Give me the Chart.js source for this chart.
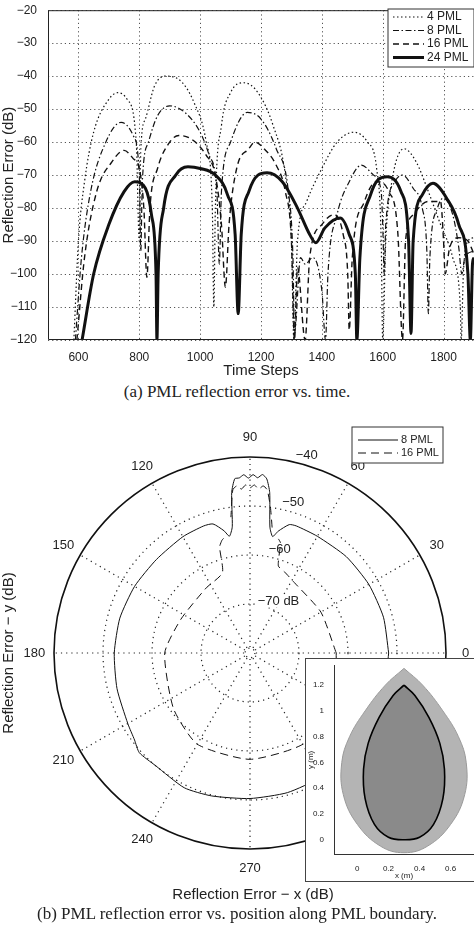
<!DOCTYPE html>
<html>
<head>
<meta charset="utf-8">
<script src="https://cdn.jsdelivr.net/npm/chart.js@4"></script>
<style>
  body { margin: 0; background: #fff; width: 474px; height: 934px; position: relative; overflow: hidden; }
  .box { position: absolute; }
  .cap { position: absolute; left: 0; width: 474px; text-align: center; font-family: "Liberation Serif", serif; font-size: 17px; color: #222; }
</style>
</head>
<body>
<div class="box" style="left:0;top:0;width:474px;height:380px"><canvas id="timeChart"></canvas></div>
<div class="cap" style="top:382px">(a) PML reflection error vs. time.</div>
<div class="box" style="left:0;top:425px;width:474px;height:485px"><canvas id="polarChart"></canvas></div>
<div class="box" style="left:305px;top:658px;width:168px;height:222px;background:#fff;border:1px solid #444"><canvas id="meshChart"></canvas></div>
<div class="cap" style="top:904px">(b) PML reflection error vs. position along PML boundary.</div>
<script>
// --- (a) reflection error vs time ---
const t4 = [585, 600, 620, 650, 700, 730, 760, 790, 800, 805, 820, 850, 885, 930, 980, 1020, 1040, 1045, 1050, 1070, 1100, 1145, 1190, 1240, 1280, 1300, 1308, 1320, 1350, 1400, 1450, 1505, 1550, 1580, 1595, 1600, 1610, 1630, 1670, 1710, 1750, 1790, 1830, 1855, 1858, 1865, 1880, 1900];
const e4 = [-120, -90, -72, -57, -47, -45, -47, -60, -90, -62, -53, -43, -40, -41, -48, -60, -80, -110, -80, -55, -45, -42, -45, -55, -70, -90, -120, -90, -78, -68, -60, -57, -60, -68, -90, -120, -90, -72, -62, -66, -75, -85, -95, -110, -120, -100, -90, -89];
const t8 = [590, 610, 640, 690, 740, 780, 800, 805, 810, 830, 860, 900, 950, 1000, 1030, 1055, 1063, 1070, 1100, 1155, 1200, 1250, 1290, 1305, 1310, 1330, 1345, 1370, 1400, 1412, 1420, 1450, 1490, 1530, 1570, 1595, 1600, 1605, 1610, 1640, 1665, 1700, 1730, 1745, 1750, 1755, 1780, 1800, 1830, 1850, 1860, 1870, 1900];
const e8 = [-120, -95, -75, -60, -54, -58, -70, -93, -72, -60, -52, -49, -51, -57, -64, -75, -97, -75, -60, -51, -53, -62, -75, -95, -118, -95, -97, -95, -105, -120, -100, -82, -72, -67, -70, -75, -85, -100, -85, -72, -70, -74, -80, -93, -112, -95, -80, -77, -82, -92, -100, -95, -93];
const t16 = [595, 620, 660, 710, 750, 780, 800, 815, 825, 835, 860, 900, 930, 970, 1020, 1050, 1070, 1083, 1095, 1120, 1160, 1180, 1210, 1250, 1280, 1300, 1310, 1320, 1345, 1360, 1400, 1440, 1470, 1485, 1490, 1500, 1540, 1580, 1620, 1650, 1665, 1675, 1700, 1750, 1790, 1800, 1805, 1820, 1850, 1880, 1900];
const e16 = [-120, -95, -75, -66, -62.5, -65, -68, -80, -101, -80, -68, -60, -58, -59, -64, -70, -85, -104, -85, -68, -62, -60, -62, -67, -75, -90, -120, -98, -120, -95, -85, -82, -88, -100, -117, -95, -78, -72, -75, -88, -120, -90, -82, -78, -78, -90, -100, -92, -89, -90, -94];
const t24 = [612, 650, 700, 750, 785, 820, 840, 855, 858, 862, 880, 920, 960, 1000, 1050, 1090, 1115, 1125, 1135, 1160, 1220, 1270, 1320, 1360, 1380, 1410, 1460, 1490, 1510, 1515, 1525, 1560, 1615, 1660, 1685, 1693, 1700, 1730, 1765, 1810, 1850, 1880, 1888, 1895, 1900];
const e24 = [-120, -100, -85, -75, -72, -74, -82, -100, -120, -100, -80, -70, -67.5, -68, -70, -76, -88, -112, -88, -75, -69.3, -72, -80, -88, -90.5, -86, -83, -88, -100, -120, -95, -76, -70.5, -75, -90, -118, -90, -76, -72.5, -77, -85, -100, -120, -97, -95];
const timeTicks = [600, 800, 1000, 1200, 1400, 1600, 1800];
const timeLabels = ['4 PML', '8 PML', '16 PML', '24 PML'];

// --- (b) reflection error vs angle along boundary ---
const ang8 = [0, 15, 30, 45, 60, 70, 73, 77, 79, 81, 83, 84.5, 86, 87.5, 89, 90.5, 92, 93.5, 95, 96.5, 98, 100, 102, 106, 110, 120, 135, 150, 165, 180, 195, 210, 217, 222, 230, 244, 255, 270, 285, 300, 315, 330, 345, 360];
const db8 = [-51.7, -51.8, -52, -52.2, -52.5, -52.4, -52.6, -54.5, -55.8, -54, -47, -44.3, -43.5, -44.2, -43.6, -44.3, -43.6, -44.2, -44.3, -47, -54, -55.8, -54.5, -52.6, -52.4, -52.6, -53, -52.8, -52.5, -52.3, -51.9, -51.2, -50.5, -49.6, -50, -49.4, -49.8, -50.3, -50.5, -50.8, -51.2, -51.5, -51.6, -51.7];
const ang16 = [0, 30, 58, 67, 72, 74.5, 76, 78, 80, 82, 84, 85.5, 87, 88.5, 90, 91.5, 93, 94.5, 96, 98, 100, 103, 104, 106, 109, 124, 154, 180, 216, 240, 270, 301, 332.5, 360];
const db16 = [-62.4, -63.3, -63, -62, -61.3, -56.7, -56, null, -54, -50, -46.5, -45.8, -46.5, -45.7, -46.3, -45.7, -46.5, -45.8, -46.5, -52, null, -56, -56.3, -57.5, -62.7, -64, -64.3, -62.6, -60.7, -58.5, -58.3, -58.5, -60.5, -62.4];
const ringDb = [-70, -60, -50, -40];
const spokeAngles = [0, 30, 60, 90, 120, 150, 180, 210, 240, 270, 300, 330];
const polarLabels = ['8 PML', '16 PML'];

// --- inset mesh outline ---
const outerX = [0.3, 0.42, 0.55, 0.65, 0.7, 0.69, 0.6, 0.45, 0.3, 0.15, 0, -0.09, -0.1, -0.05, 0.05, 0.18, 0.3];
const outerY = [1.33, 1.2, 1.0, 0.8, 0.6, 0.35, 0.12, -0.05, -0.1, -0.05, 0.12, 0.35, 0.6, 0.8, 1.0, 1.2, 1.33];
const innerX = [0.3, 0.37, 0.46, 0.53, 0.56, 0.55, 0.49, 0.4, 0.3, 0.2, 0.11, 0.05, 0.04, 0.07, 0.14, 0.23, 0.3];
const innerY = [1.2, 1.12, 0.95, 0.75, 0.55, 0.32, 0.12, 0.02, 0, 0.02, 0.12, 0.32, 0.55, 0.75, 0.95, 1.12, 1.2];

const SANS = '"Liberation Sans", Arial, sans-serif';
Chart.defaults.font.family = SANS;
Chart.defaults.color = '#222';
Chart.defaults.animation = false;

function pairs(xs, ys) {
    return xs.map((x, i) => ({ x: x, y: ys[i] }));
}
const minus = v => (v < 0 ? '\u2212' + Math.abs(v) : String(v));

const dashes = [[1.5, 2.5], [6, 2.5, 1.5, 2.5], [6, 4], []];
const widths = [1.2, 1.2, 1.4, 3];

function legendPlugin(id, box, labels, styles) {
    return {
        id: id,
        afterDraw(chart) {
            const ctx = chart.ctx;
            ctx.save();
            ctx.fillStyle = '#fff';
            ctx.fillRect(box.x, box.y, box.w, box.h);
            ctx.strokeStyle = '#333';
            ctx.lineWidth = 1;
            ctx.strokeRect(box.x, box.y, box.w, box.h);
            ctx.font = box.font + 'px ' + SANS;
            ctx.textBaseline = 'middle';
            labels.forEach((lab, i) => {
                const y = box.y + box.first + i * box.step;
                ctx.setLineDash(styles[i].dash);
                ctx.lineWidth = styles[i].width;
                ctx.strokeStyle = '#111';
                ctx.beginPath();
                ctx.moveTo(box.x + box.l0, y);
                ctx.lineTo(box.x + box.l1, y);
                ctx.stroke();
                ctx.setLineDash([]);
                ctx.fillStyle = '#222';
                ctx.fillText(lab, box.x + box.l1 + 3, y);
            });
            ctx.restore();
        }
    };
}

new Chart(document.getElementById('timeChart'), {
    type: 'scatter',
    data: {
        datasets: [[t4, e4], [t8, e8], [t16, e16], [t24, e24]].map((s, i) => ({
            label: timeLabels[i],
            data: pairs(s[0], s[1]),
            showLine: true,
            borderColor: '#111',
            borderWidth: widths[i],
            borderDash: dashes[i],
            pointRadius: 0,
            cubicInterpolationMode: 'monotone'
        }))
    },
    options: {
        responsive: true,
        maintainAspectRatio: false,
        layout: { padding: { top: 4, right: 0, left: 0, bottom: 0 } },
        plugins: { legend: { display: false }, tooltip: { enabled: false } },
        scales: {
            x: {
                type: 'linear', min: 500, max: 1900,
                afterBuildTicks: s => { s.ticks = timeTicks.map(v => ({ value: v })); },
                afterFit: s => { s.height = 40; },
                grid: { display: false },
                border: { display: false },
                ticks: { padding: 2, font: { size: 12 }, maxRotation: 0, callback: v => String(v) },
                title: { display: true, text: 'Time Steps', font: { size: 15 }, padding: { top: 3, bottom: 0 } }
            },
            y: {
                min: -120, max: -20,
                ticks: { stepSize: 10, font: { size: 12 }, padding: 3, callback: minus },
                afterFit: s => { s.width = 48; },
                grid: { display: false },
                border: { display: false },
                title: { display: true, text: 'Reflection Error (dB)', font: { size: 15 }, padding: 0 }
            }
        }
    },
    plugins: [
        {
            id: 'dottedGrid',
            beforeDatasetsDraw(chart) {
                const a = chart.chartArea, ctx = chart.ctx, sx = chart.scales.x, sy = chart.scales.y;
                ctx.save();
                ctx.strokeStyle = '#555';
                ctx.lineWidth = 1;
                ctx.setLineDash([1.2, 3]);
                sx.ticks.forEach(t => {
                    const x = Math.round(sx.getPixelForValue(t.value)) + 0.5;
                    ctx.beginPath(); ctx.moveTo(x, a.top); ctx.lineTo(x, a.bottom); ctx.stroke();
                });
                sy.ticks.forEach(t => {
                    const y = Math.round(sy.getPixelForValue(t.value)) + 0.5;
                    ctx.beginPath(); ctx.moveTo(a.left, y); ctx.lineTo(a.right, y); ctx.stroke();
                });
                ctx.restore();
            },
            afterDraw(chart) {
                const a = chart.chartArea, ctx = chart.ctx;
                ctx.save();
                ctx.strokeStyle = '#222';
                ctx.lineWidth = 1;
                ctx.beginPath();
                ctx.moveTo(a.right, a.top + 0.5);
                ctx.lineTo(a.left + 0.5, a.top + 0.5);
                ctx.lineTo(a.left + 0.5, a.bottom - 0.5);
                ctx.lineTo(a.right, a.bottom - 0.5);
                ctx.stroke();
                ctx.restore();
            }
        },
        legendPlugin('timeLegend', { x: 388, y: 9, w: 86, h: 58, first: 8, step: 13.5, l0: 5, l1: 36, font: 12 },
            timeLabels, dashes.map((d, i) => ({ dash: d, width: widths[i] })))
    ]
});

// polar chart drawn on a scatter plane, radius unit = 40 dB (from -80 dB at centre)
const R_PX = 196;
const CX = 250, CY = 228;
function toXY(angs, dbs) {
    return angs.map((a, i) => {
        if (dbs[i] === null) return { x: null, y: null };
        const r = (dbs[i] + 80) / 40;
        const t = a * Math.PI / 180;
        return { x: r * Math.cos(t), y: r * Math.sin(t) };
    });
}

new Chart(document.getElementById('polarChart'), {
    type: 'scatter',
    data: {
        datasets: [
            { label: polarLabels[0], data: toXY(ang8, db8), showLine: true, borderColor: '#111', borderWidth: 1, pointRadius: 0, tension: 0.2 },
            { label: polarLabels[1], data: toXY(ang16, db16), showLine: true, spanGaps: false, borderColor: '#111', borderWidth: 1, borderDash: [8, 5], pointRadius: 0, tension: 0.2 }
        ]
    },
    options: {
        responsive: true,
        maintainAspectRatio: false,
        layout: { padding: 0 },
        plugins: { legend: { display: false }, tooltip: { enabled: false } },
        scales: {
            x: { display: false, min: -CX / R_PX, max: (474 - CX) / R_PX },
            y: { display: false, min: -(485 - CY) / R_PX, max: CY / R_PX }
        }
    },
    plugins: [
        {
            id: 'polarGrid',
            beforeDatasetsDraw(chart) {
                const ctx = chart.ctx, sx = chart.scales.x, sy = chart.scales.y;
                const cx = sx.getPixelForValue(0), cy = sy.getPixelForValue(0);
                const unit = sx.getPixelForValue(1) - cx;
                ctx.save();
                ctx.strokeStyle = '#222';
                ctx.lineWidth = 1.2;
                ctx.setLineDash([1.2, 4]);
                ringDb.slice(0, 3).forEach(d => {
                    ctx.beginPath();
                    ctx.arc(cx, cy, (d + 80) / 40 * unit, 0, Math.PI * 2);
                    ctx.stroke();
                });
                ctx.beginPath();
                ctx.arc(cx, cy, 0.025 * unit, 0, Math.PI * 2);
                ctx.stroke();
                spokeAngles.forEach(a => {
                    const t = a * Math.PI / 180;
                    ctx.beginPath();
                    ctx.moveTo(cx + 0.03 * unit * Math.cos(t), cy - 0.03 * unit * Math.sin(t));
                    ctx.lineTo(cx + unit * Math.cos(t), cy - unit * Math.sin(t));
                    ctx.stroke();
                });
                ctx.setLineDash([]);
                ctx.lineWidth = 1.6;
                ctx.strokeStyle = '#111';
                ctx.beginPath();
                ctx.arc(cx, cy, unit, 0, Math.PI * 2);
                ctx.stroke();
                ctx.fillStyle = '#222';
                ctx.font = '13px ' + SANS;
                ctx.textAlign = 'center';
                ctx.textBaseline = 'middle';
                spokeAngles.forEach(a => {
                    const t = a * Math.PI / 180;
                    const rr = 1.1;
                    ctx.fillText(String(a), cx + rr * unit * Math.cos(t), cy - rr * unit * Math.sin(t));
                });
                ringDb.forEach(d => {
                    const r = (d + 80) / 40 + 0.05;
                    const t = (d === -70 ? 61 : 74) * Math.PI / 180;
                    const txt = d === -70 ? '\u221270 dB' : minus(d);
                    const w = ctx.measureText(txt).width;
                    const px = cx + r * unit * Math.cos(t), py = cy - r * unit * Math.sin(t);
                    ctx.fillStyle = '#fff';
                    ctx.fillRect(px - w / 2 - 1, py - 6, w + 2, 12);
                    ctx.fillStyle = '#222';
                    ctx.fillText(txt, px, py);
                });
                ctx.font = '15px ' + SANS;
                ctx.fillText('Reflection Error \u2212 x (dB)', 253, 470);
                ctx.translate(9, CY);
                ctx.rotate(-Math.PI / 2);
                ctx.fillText('Reflection Error \u2212 y (dB)', 0, 0);
                ctx.restore();
            }
        },
        legendPlugin('polarLegend', { x: 352, y: 2, w: 91, h: 36, first: 13, step: 13, l0: 6, l1: 46, font: 11 },
            polarLabels, [{ dash: [], width: 1 }, { dash: [8, 5], width: 1 }])
    ]
});

new Chart(document.getElementById('meshChart'), {
    type: 'scatter',
    data: {
        datasets: [
            { data: pairs(innerX, innerY), showLine: true, borderColor: '#000', borderWidth: 1.6, backgroundColor: '#8a8a8a', fill: 'shape', pointRadius: 0, tension: 0.4 },
            { data: pairs(outerX, outerY), showLine: true, borderColor: '#9a9a9a', borderWidth: 1, backgroundColor: '#b4b4b4', fill: 'shape', pointRadius: 0, tension: 0.4 }
        ]
    },
    options: {
        responsive: true,
        maintainAspectRatio: false,
        layout: { padding: { top: 2, right: 0, left: 0, bottom: 0 } },
        plugins: { legend: { display: false }, tooltip: { enabled: false } },
        scales: {
            x: {
                min: -0.15, max: 0.75,
                afterBuildTicks: s => { s.ticks = [0, 0.2, 0.4, 0.6].map(v => ({ value: v })); },
                afterFit: s => { s.height = 27; },
                grid: { display: false },
                border: { color: '#333' },
                ticks: { font: { size: 8 }, padding: 2, maxRotation: 0, callback: v => String(v) },
                title: { display: true, text: 'x (m)', font: { size: 8 }, padding: 0 }
            },
            y: {
                min: -0.11, max: 1.35,
                afterBuildTicks: s => { s.ticks = [0, 0.2, 0.4, 0.6, 0.8, 1, 1.2].map(v => ({ value: v })); },
                afterFit: s => { s.width = 28; },
                grid: { display: false },
                border: { color: '#333' },
                ticks: { font: { size: 8 }, padding: 2, callback: v => String(v) },
                title: { display: true, text: 'y (m)', font: { size: 8 }, padding: 0 }
            }
        }
    }
});
</script>
</body>
</html>
